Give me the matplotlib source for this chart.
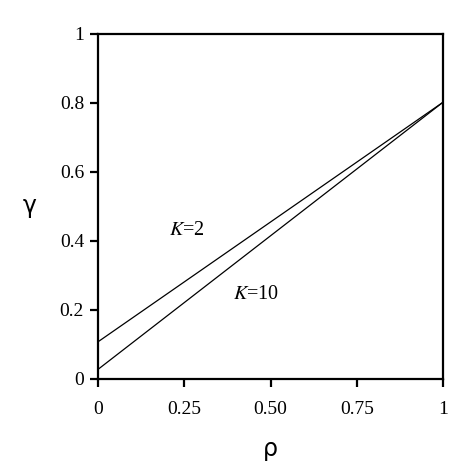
import matplotlib
matplotlib.use("Agg")
import matplotlib.pyplot as plt
import numpy as np

rho = [0.0, 1.0]
gamma_k2 = [0.107, 0.802]
gamma_k10 = [0.027, 0.802]
xticks = [0, 0.25, 0.5, 0.75, 1]
xticklabels = ["0", "0.25", "0.50", "0.75", "1"]
yticks = [0, 0.2, 0.4, 0.6, 0.8, 1]
yticklabels = ["0", "0.2", "0.4", "0.6", "0.8", "1"]

plt.rcParams['font.family'] = ['Liberation Serif', 'DejaVu Serif']
plt.rcParams['mathtext.fontset'] = 'stix'

fig = plt.figure(figsize=(4.74, 4.72), dpi=100)
ax = fig.add_axes([98/474, 1 - 378.7/472, 345/474, 344.7/472])
ax.plot(rho, gamma_k2, color='black', lw=0.9)
ax.plot(rho, gamma_k10, color='black', lw=0.9)
ax.set_xlim(0, 1)
ax.set_ylim(0, 1)
ax.set_xticks(xticks)
ax.set_xticklabels(xticklabels)
ax.set_yticks(yticks)
ax.set_yticklabels(yticklabels)
for s in ax.spines.values():
    s.set_linewidth(1.6)
ax.tick_params(direction='out', length=6, width=1.6, labelsize=14)
ax.tick_params(axis='y', pad=4)
ax.tick_params(axis='x', pad=10)
ax.text(0.205, 0.43, r"$K$=2", fontsize=14.5, ha='left', va='center')
ax.text(0.39, 0.243, r"$K$=10", fontsize=14.5, ha='left', va='center')
ax.set_xlabel("ρ", fontsize=17, labelpad=14, family=['DejaVu Sans'])
ax.set_ylabel("γ", fontsize=17, labelpad=22, rotation=0, va='center', family=['DejaVu Sans'])
fig.savefig("out.png", dpi=100)
